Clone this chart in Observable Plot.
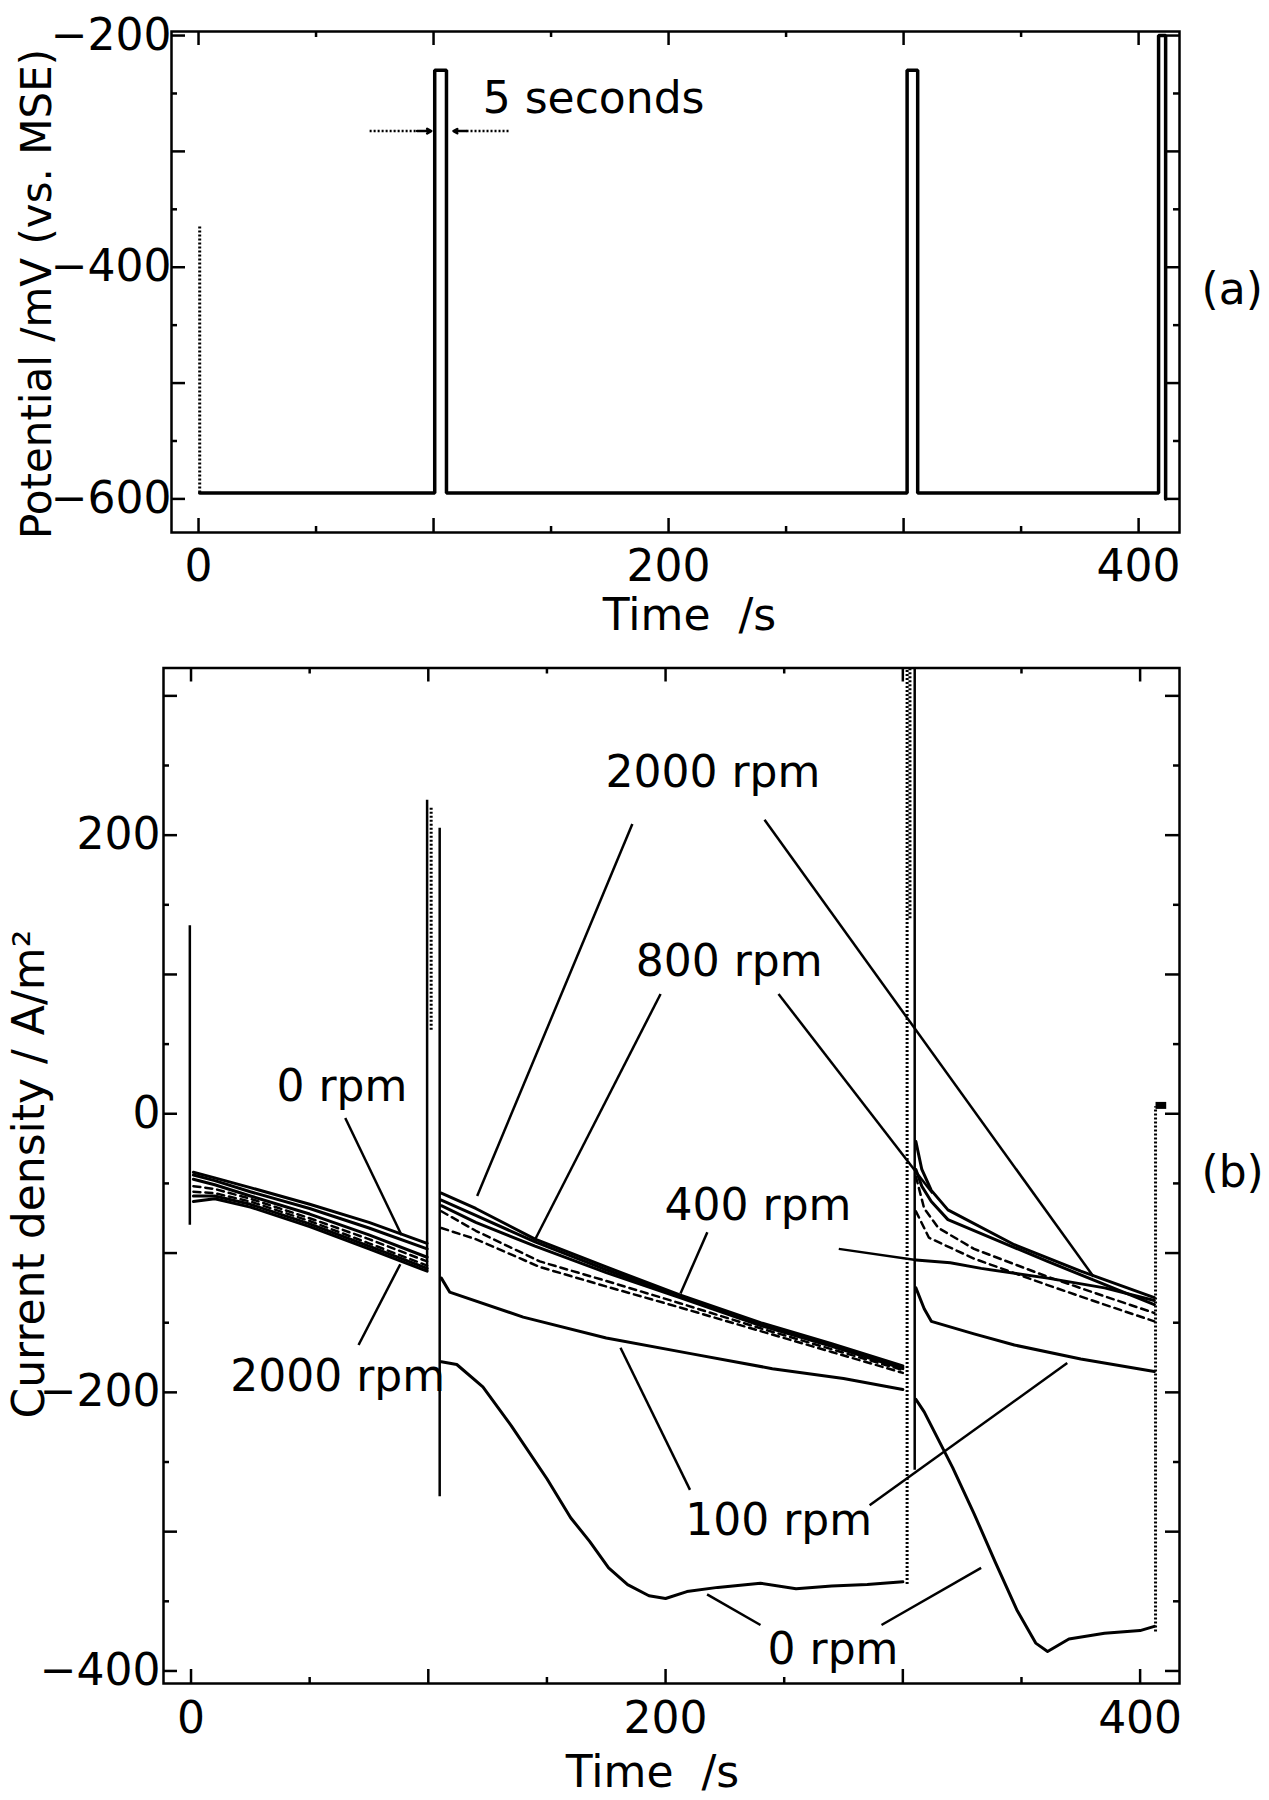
<!DOCTYPE html>
<html><head><meta charset="utf-8">
<script src="https://cdn.jsdelivr.net/npm/d3@7"></script>
<script src="https://cdn.jsdelivr.net/npm/@observablehq/plot@0.6"></script>
<style>
body{margin:0;background:#fff;}
#chart{width:1269px;}
#chart svg{display:block;}
</style></head><body><div id="chart"></div>
<script>
// ---------- Panel (a): applied potential ----------
const potentialT  = [0.5, 100.5, 100.5, 105.5, 105.5, 301.5, 301.5, 306, 306, 408.5, 408.5, 411.5, 411.5];
const potentialMV = [-595, -595, -230, -230, -595, -595, -230, -230, -595, -595, -200, -200, -600];
const initialStep = [{t: 0.5, lo: -595, hi: -365}];

const aXLabels = [0, 200, 400];
const aYLabels = [-600, -400, -200];
const xMajor = [0, 100, 200, 300, 400];
const xMinor = [50, 150, 250, 350];
const aYMajor = [-600, -500, -400, -300, -200];
const aYMinor = [-550, -450, -350, -250];

// "5 seconds" annotation (data coordinates)
const pulseNote = [{text: "5 seconds", t: 120.9, mv: -255}];
const pulseArrowShafts = [{t1: 72.8, t2: 93, mv: -282.5}, {t1: 131.9, t2: 114, mv: -282.5}];
const pulseArrowHeads  = [{t1: 93, t2: 99, mv: -282.5}, {t1: 114, t2: 108.5, mv: -282.5}];

// ---------- Panel (b): current density, segments between pulses ----------
const rpm0 = [
  [[1,-42],[10,-46],[25,-53],[50,-65],[75,-78],[99.5,-93]],
  [[105.5,-178],[112,-180],[123,-196],[135,-224],[150,-262],[160,-290],[168,-307],[176,-326],[184,-338],[193,-346],[200,-348],[209,-343],[222,-340],[240,-337],[255,-341],[270,-339],[285,-338],[300,-336]],
  [[305.5,-205],[309,-214],[321,-254],[330,-287],[339,-322],[348,-356],[356,-380],[361,-386],[370,-377],[385,-373],[400,-371],[406,-368]]
];
const rpm100 = [
  [[1,-44],[10,-48],[25,-56],[50,-68],[75,-82],[99.5,-97]],
  [[105.5,-118],[109,-128],[140,-146],[175,-161],[210,-172],[245,-183],[275,-190],[300,-198]],
  [[305.5,-125],[309,-140],[312,-149],[330,-158],[347,-166],[375,-176],[406,-185]]
];
const rpm400 = [
  [[1,-47],[10,-51],[25,-59],[50,-72],[75,-87],[99.5,-103]],
  [[105.5,-66],[120,-78],[145,-95],[175,-114],[206,-132],[240,-152],[270,-167],[300,-183]],
  [[305.5,-105],[320,-107],[333,-111],[361,-118],[385,-125],[406,-134]]
];
const rpm800 = [
  [[1,-59],[10,-59],[25,-65],[50,-79],[75,-95],[99.5,-111]],
  [[105.5,-62],[120,-73],[145,-92],[175,-112],[206,-131],[240,-151],[270,-166],[300,-182]],
  [[305.5,-40],[308,-52],[312,-63],[319,-76],[361,-106],[406,-137]]
];
const rpm2000 = [
  [[1,-63],[10,-61],[25,-67],[50,-81],[75,-97],[99.5,-113]],
  [[105.5,-57],[120,-68],[145,-90],[175,-110],[206,-130],[240,-150],[270,-165],[300,-181]],
  [[305.5,-20],[308,-40],[312,-55],[319,-69],[347,-94],[375,-113],[406,-132]]
];
// dashed, unlabelled traces inside the bundle
const dashedA = [
  [[1,-52],[10,-54],[25,-61],[50,-75],[75,-90],[99.5,-106]],
  [[105.5,-70],[120,-84],[147,-106],[175,-120],[206,-136],[240,-154],[270,-169],[300,-184]],
  [[305.5,-45],[309,-68],[315,-82],[330,-97],[361,-117],[385,-131],[406,-143]]
];
const dashedB = [
  [[1,-56],[10,-57],[25,-63],[50,-77],[75,-93],[99.5,-109]],
  [[105.5,-82],[120,-90],[147,-110],[175,-124],[206,-139],[240,-156],[270,-171],[300,-186]],
  [[305.5,-70],[311,-89],[330,-104],[361,-123],[385,-137],[406,-149]]
];

// transients at the potential steps
const transientsSolid  = [{t:-0.5,lo:-80,hi:135},{t:99.5,lo:-113,hi:225},{t:104.8,lo:-275,hi:205},{t:305,lo:-256,hi:320}];
const transientsDotted = [{t:101.2,lo:60,hi:220},{t:301.8,lo:-338,hi:320},{t:303,lo:140,hi:320},{t:406.5,lo:-372,hi:5}];
const endBlob = [{t1:406.5,t2:411,j:6}];

const bXLabels = [0, 200, 400];
const bYLabels = [-400, -200, 0, 200];
const bYMajor = [-400, -300, -200, -100, 0, 100, 200, 300];
const bYMinor = [-350, -250, -150, -50, 50, 150, 250];

const curveLabels = [
  {text:"2000 rpm", t:174.7, j:245},
  {text:"800 rpm",  t:187.4, j:109},
  {text:"400 rpm",  t:199.6, j:-66},
  {text:"0 rpm",    t:36,    j:19},
  {text:"2000 rpm", t:16.5,  j:-189},
  {text:"100 rpm",  t:208.3, j:-292},
  {text:"0 rpm",    t:243,   j:-385}
];
const leaders = [
  {t1:186,   j1:208,  t2:120.6, j2:-59},
  {t1:241.7, j1:211,  t2:380.4, j2:-117},
  {t1:197.9, j1:86,   t2:144.8, j2:-91},
  {t1:247.6, j1:86,   t2:312.5, j2:-57},
  {t1:217.6, j1:-85,  t2:206.3, j2:-129},
  {t1:273,   j1:-97,  t2:305.5, j2:-105},
  {t1:65,    j1:-3,   t2:88.7,  j2:-87},
  {t1:70.6,  j1:-166, t2:88.2,  j2:-108},
  {t1:210.3, j1:-270, t2:181,   j2:-168},
  {t1:286,   j1:-281, t2:369.3, j2:-179},
  {t1:240,   j1:-367, t2:217.5, j2:-345},
  {t1:291,   j1:-367, t2:333,   j2:-326}
];

// ---------- helpers ----------
const FONT = "DejaVu Sans";
const FS = 44;
const SW = 2.5;
const fmt = d => d < 0 ? "\u2212" + Math.abs(d) : String(d);
const rows = (name, segs) => segs.flatMap((seg, i) => seg.map(([t, j]) => ({key: name + "-" + i, t, j})));

function frameTicks(fw, fh, xMaj, xMin, yMaj, yMin) {
  const out = [];
  for (const [vals, len] of [[xMaj, 14], [xMin, 6]]) {
    out.push(Plot.ruleX(vals, {x: d => d, insetTop: fh - len, strokeWidth: SW}));
    out.push(Plot.ruleX(vals, {x: d => d, insetBottom: fh - len, strokeWidth: SW}));
  }
  for (const [vals, len] of [[yMaj, 14], [yMin, 6]]) {
    out.push(Plot.ruleY(vals, {y: d => d, insetRight: fw - len, strokeWidth: SW}));
    out.push(Plot.ruleY(vals, {y: d => d, insetLeft: fw - len, strokeWidth: SW}));
  }
  return out;
}
const style = {fontFamily: FONT, fontSize: FS + "px", background: "white", color: "black", overflow: "visible"};

// ---------- Panel (a) ----------
const potential = potentialT.map((t, i) => ({t, mv: potentialMV[i]}));
const plotA = Plot.plot({
  width: 1269, height: 640,
  marginLeft: 171, marginRight: 90, marginTop: 31, marginBottom: 108,
  style,
  x: {domain: [-11.5, 417.4]},
  y: {domain: [-629, -196.5]},
  marks: [
    Plot.frame({strokeWidth: SW}),
    ...frameTicks(1008, 501, xMajor, xMinor, aYMajor, aYMinor),
    Plot.axisX({ticks: aXLabels, tickSize: 0, tickPadding: 17, tickFormat: fmt, label: null, fontSize: FS}),
    Plot.axisY({ticks: aYLabels, tickSize: 0, tickPadding: 0, tickFormat: fmt, label: null, fontSize: FS}),
    Plot.ruleX(initialStep, {x: "t", y1: "lo", y2: "hi", strokeWidth: 3, strokeDasharray: "2,2"}),
    Plot.line(potential, {x: "t", y: "mv", strokeWidth: 3.5, strokeLinejoin: "miter"}),
    Plot.link(pulseArrowShafts, {x1: "t1", x2: "t2", y1: "mv", y2: "mv", strokeWidth: 2.5, strokeDasharray: "2,2"}),
    Plot.arrow(pulseArrowHeads, {x1: "t1", x2: "t2", y1: "mv", y2: "mv", strokeWidth: 2.5, headLength: 12}),
    Plot.text(pulseNote, {x: "t", y: "mv", text: "text", textAnchor: "start", fontSize: FS}),
    Plot.text(["Time\u00a0 /s"], {frameAnchor: "bottom", dx: 14, dy: 66, lineAnchor: "top", fontSize: FS}),
    Plot.text(["Potential /mV (vs. MSE)"], {frameAnchor: "left", dx: -134, dy: 12, rotate: -90, textAnchor: "middle", fontSize: 42}),
    Plot.text(["(a)"], {frameAnchor: "right", dx: 22, dy: 8, textAnchor: "start", fontSize: FS})
  ]
});

// ---------- Panel (b) ----------
const solidRows = [
  ...rows("0 rpm", rpm0), ...rows("100 rpm", rpm100), ...rows("400 rpm", rpm400),
  ...rows("800 rpm", rpm800), ...rows("2000 rpm", rpm2000)
];
const dashRows = [...rows("dashed A", dashedA), ...rows("dashed B", dashedB)];

const plotB = Plot.plot({
  width: 1269, height: 1160,
  marginLeft: 163, marginRight: 90, marginTop: 27.5, marginBottom: 117,
  style,
  x: {domain: [-11.6, 416.6]},
  y: {domain: [-409, 320]},
  marks: [
    Plot.frame({strokeWidth: SW}),
    ...frameTicks(1016, 1015.5, xMajor, xMinor, bYMajor, bYMinor),
    Plot.axisX({ticks: bXLabels, tickSize: 0, tickPadding: 18, tickFormat: fmt, label: null, fontSize: FS}),
    Plot.axisY({ticks: bYLabels, tickSize: 0, tickPadding: 3, tickFormat: fmt, label: null, fontSize: FS}),
    Plot.line(dashRows, {x: "t", y: "j", z: "key", strokeWidth: 2.5, strokeDasharray: "7,5"}),
    Plot.line(solidRows, {x: "t", y: "j", z: "key", strokeWidth: 3}),
    Plot.ruleX(transientsSolid, {x: "t", y1: "lo", y2: "hi", strokeWidth: 2.5}),
    Plot.ruleX(transientsDotted, {x: "t", y1: "lo", y2: "hi", strokeWidth: 3, strokeDasharray: "2,2"}),
    Plot.link(endBlob, {x1: "t1", x2: "t2", y1: "j", y2: "j", strokeWidth: 7}),
    Plot.link(leaders, {x1: "t1", y1: "j1", x2: "t2", y2: "j2", strokeWidth: 2.5}),
    Plot.text(curveLabels, {x: "t", y: "j", text: "text", textAnchor: "start", fontSize: FS}),
    Plot.text(["Time\u00a0 /s"], {frameAnchor: "bottom", dx: -19, dy: 72, lineAnchor: "top", fontSize: FS}),
    Plot.text(["Current density / A/m\u00b2"], {frameAnchor: "bottom-left", dx: -120, dy: -265, rotate: -90, textAnchor: "start", fontSize: FS}),
    Plot.text(["(b)"], {frameAnchor: "right", dx: 22, dy: -3, textAnchor: "start", fontSize: FS})
  ]
});

const chart = document.getElementById("chart");
chart.append(plotA, plotB);
</script>
</body></html>
